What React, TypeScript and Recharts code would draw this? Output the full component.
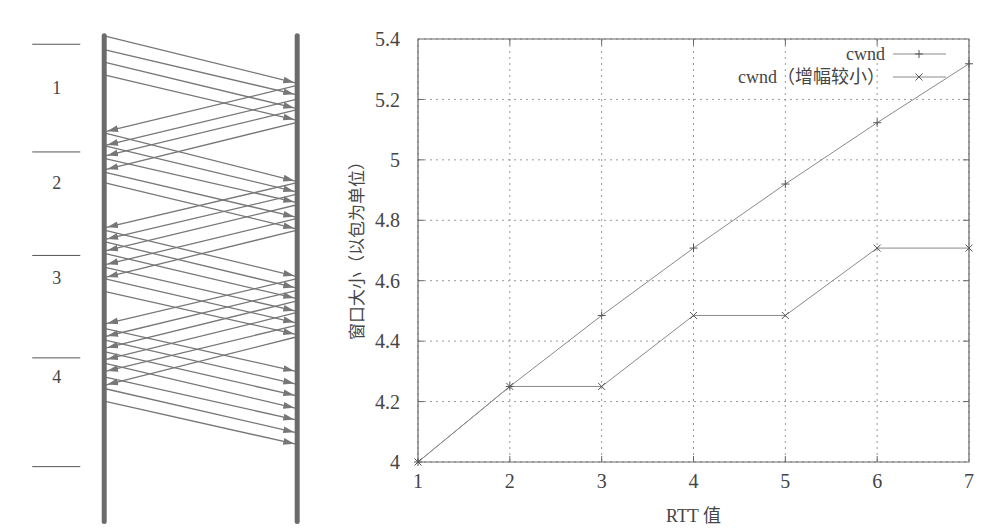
import {
  LineChart,
  Line,
  XAxis,
  YAxis,
  CartesianGrid,
  ReferenceLine,
  ReferenceDot,
  ReferenceArea,
  Legend,
} from "recharts";

// ---- left panel: sender/receiver timeline (time units, ~100 per RTT) ----
const roundStarts = [0, 102, 200, 297, 400];
const roundLabels = ["1", "2", "3", "4"];
const roundLabelTimes = [41, 131, 221, 315];
const hostSpan = [-8, 452];

const dataSent = [
  [-8, 5, 17, 29],
  [84, 96, 108, 121, 131],
  [176, 187, 198, 211, 222, 234],
  [269, 280, 291, 302, 315, 326, 338],
];
const dataArrived = [
  [37, 48, 61, 72],
  [130, 140, 150, 164, 175],
  [220, 231, 241, 253, 264, 275],
  [310, 322, 333, 345, 356, 368, 379],
];
const ackSent = [
  [39, 52, 62, 74],
  [131, 142, 152, 165, 176],
  [222, 233, 243, 254, 266, 277],
];
const ackArrived = [
  [83, 96, 106, 119],
  [174, 185, 196, 209, 221],
  [265, 277, 288, 299, 310, 323],
];

// ---- right panel: window size per RTT ----
const rtt = [1, 2, 3, 4, 5, 6, 7];
const cwnd = [4, 4.25, 4.485, 4.708, 4.92, 5.123, 5.318];
const cwndSlow = [4, 4.25, 4.25, 4.485, 4.485, 4.708, 4.708];
const yTicks = [4, 4.2, 4.4, 4.6, 4.8, 5, 5.2, 5.4];
const seriesNames = ["cwnd", "cwnd（增幅较小）"];

const FONT = "'Liberation Serif', 'Noto Sans CJK SC', serif";
const TEXT = "#454545";
const ARROW = "#777";
const HOST = "#6b6b6b";
const PLOT_LINE = "#8a8a8a";
const MARK = "#555";

type Pt = { x: number; t: number };
const arrows: Pt[][] = [];
dataSent.forEach((round, r) =>
  round.forEach((s, i) => arrows.push([{ x: 0, t: s }, { x: 1, t: dataArrived[r][i] }]))
);
ackSent.forEach((round, r) =>
  round.forEach((s, i) => arrows.push([{ x: 1, t: s }, { x: 0, t: ackArrived[r][i] }]))
);

const chartData = rtt.map((x, i) => ({ rtt: x, cwnd: cwnd[i], slow: cwndSlow[i] }));

const PlusDot = (p: any) => (
  <path
    key={p.key ?? p.index}
    d={`M${p.cx - 4},${p.cy}h8M${p.cx},${p.cy - 4}v8`}
    stroke={MARK}
    strokeWidth={1}
    fill="none"
  />
);
const CrossDot = (p: any) => (
  <path
    key={p.key ?? p.index}
    d={`M${p.cx - 3.5},${p.cy - 3.5}l7,7M${p.cx + 3.5},${p.cy - 3.5}l-7,7`}
    stroke={MARK}
    strokeWidth={1}
    fill="none"
  />
);

const renderLegend = (props: any) => {
  const items = props.payload ?? [];
  return (
    <svg width={666} height={100} style={{ display: "block" }}>
      {items.map((it: any, i: number) => {
        const y = 54 + i * 23;
        return (
          <g key={i}>
            <text
              x={555}
              y={y}
              textAnchor="end"
              dominantBaseline="central"
              fontFamily={FONT}
              fontSize={18}
              fill={TEXT}
            >
              {it.value}
            </text>
            <line x1={563} x2={616} y1={y} y2={y} stroke={PLOT_LINE} strokeWidth={1} />
            {i === 0 ? <PlusDot cx={589} cy={y} /> : <CrossDot cx={589} cy={y} />}
          </g>
        );
      })}
    </svg>
  );
};

const renderYLabel = (props: any) => {
  const vb = props.viewBox;
  const x = vb.x + 27;
  const y = vb.y + vb.height / 2 - 4;
  return (
    <text
      x={x}
      y={y}
      transform={`rotate(-90 ${x} ${y})`}
      textAnchor="middle"
      dominantBaseline="central"
      fontFamily={FONT}
      fontSize={17}
      fill={TEXT}
    >
      窗口大小（以包为单位）
    </text>
  );
};

const renderXLabel = (props: any) => {
  const vb = props.viewBox;
  return (
    <text
      x={vb.x + vb.width / 2}
      y={vb.y + 54}
      textAnchor="middle"
      dominantBaseline="central"
      fontFamily={FONT}
      fontSize={18}
      fill={TEXT}
    >
      RTT 值
    </text>
  );
};

const tickStyle = { fontFamily: FONT, fontSize: 20, fill: TEXT };
const fmt = (v: number) => String(Number(v.toFixed(1)));

function Timeline() {
  return (
    <LineChart width={330} height={530} margin={{ top: 2, right: 0, bottom: 0, left: 0 }}>
      <XAxis type="number" dataKey="x" domain={[-0.54, 1.17]} hide allowDataOverflow />
      <YAxis type="number" dataKey="t" domain={[-40, 460]} reversed hide allowDataOverflow />
      {roundStarts.map((t) => (
        <ReferenceLine
          key={`sep-${t}`}
          segment={[
            { x: -0.373, y: t },
            { x: -0.124, y: t },
          ]}
          stroke="#555"
          strokeWidth={1}
        />
      ))}
      {roundLabels.map((lab, i) => (
        <ReferenceDot
          key={`lab-${lab}`}
          x={-0.246}
          y={roundLabelTimes[i]}
          r={0}
          fill="none"
          stroke="none"
          label={{ value: lab, position: "center", fontFamily: FONT, fontSize: 18, fill: TEXT }}
        />
      ))}
      {arrows.map((d, i) => (
        <Line
          key={`arrow-${i}`}
          data={d}
          dataKey="t"
          stroke={ARROW}
          strokeWidth={1.3}
          dot={false}
          activeDot={false}
          markerEnd="url(#arrowHead)"
          isAnimationActive={false}
        />
      ))}
      {[0, 1].map((h) => (
        <Line
          key={`host-${h}`}
          data={[
            { x: h, t: hostSpan[0] },
            { x: h, t: hostSpan[1] },
          ]}
          dataKey="t"
          stroke={HOST}
          strokeWidth={5}
          strokeLinecap="round"
          dot={false}
          activeDot={false}
          isAnimationActive={false}
        />
      ))}
    </LineChart>
  );
}

function WindowChart() {
  return (
    <LineChart
      width={666}
      height={530}
      data={chartData}
      margin={{ top: 39, right: 27, bottom: 0, left: 0 }}
    >
      <CartesianGrid stroke="#9a9a9a" strokeDasharray="2 4" />
      <XAxis
        type="number"
        dataKey="rtt"
        domain={[1, 7]}
        ticks={rtt}
        tickLine={false}
        axisLine={false}
        tickSize={6}
        tickMargin={6}
        height={68}
        tick={tickStyle}
        label={renderXLabel}
      />
      <YAxis
        type="number"
        domain={[4, 5.4]}
        ticks={yTicks}
        tickFormatter={fmt}
        tickLine={false}
        axisLine={false}
        tickSize={6}
        tickMargin={12}
        width={88}
        tick={tickStyle}
        label={renderYLabel}
      />
      <ReferenceArea x1={1} x2={7} y1={4} y2={5.4} fill="none" stroke="#666" strokeWidth={1.2} />
      {rtt.slice(1, -1).map((x) => (
        <ReferenceLine key={`bt-${x}`} segment={[{ x, y: 4 }, { x, y: 4.02 }]} stroke="#666" />
      ))}
      {rtt.slice(1, -1).map((x) => (
        <ReferenceLine key={`tt-${x}`} segment={[{ x, y: 5.4 }, { x, y: 5.38 }]} stroke="#666" />
      ))}
      {yTicks.slice(1, -1).map((y) => (
        <ReferenceLine key={`lt-${y}`} segment={[{ x: 1, y }, { x: 1.065, y }]} stroke="#666" />
      ))}
      {yTicks.slice(1, -1).map((y) => (
        <ReferenceLine key={`rt-${y}`} segment={[{ x: 7, y }, { x: 6.935, y }]} stroke="#666" />
      ))}
      <Legend
        layout="horizontal"
        align="center"
        verticalAlign="middle"
        content={renderLegend}
        wrapperStyle={{ position: "absolute", left: 0, top: 0, width: 666, height: 100 }}
      />
      <Line
        type="linear"
        dataKey="cwnd"
        name={seriesNames[0]}
        stroke={PLOT_LINE}
        strokeWidth={1}
        dot={PlusDot}
        activeDot={false}
        isAnimationActive={false}
      />
      <Line
        type="linear"
        dataKey="slow"
        name={seriesNames[1]}
        stroke={PLOT_LINE}
        strokeWidth={1}
        dot={CrossDot}
        activeDot={false}
        isAnimationActive={false}
      />
    </LineChart>
  );
}

export default function App() {
  return (
    <div
      style={{
        position: "absolute",
        left: 0,
        top: 0,
        width: 996,
        height: 530,
        background: "#fff",
      }}
    >
      <svg width={0} height={0} style={{ position: "absolute" }}>
        <defs>
          <marker
            id="arrowHead"
            markerUnits="userSpaceOnUse"
            markerWidth={16}
            markerHeight={8}
            viewBox="0 0 16 8"
            refX={14}
            refY={4}
            orient="auto"
          >
            <path d="M0,0.6 L11,4 L0,7.4 Z" fill={ARROW} />
          </marker>
        </defs>
      </svg>
      <div style={{ position: "absolute", left: 0, top: 0 }}>
        <Timeline />
      </div>
      <div style={{ position: "absolute", left: 330, top: 0 }}>
        <WindowChart />
      </div>
    </div>
  );
}
